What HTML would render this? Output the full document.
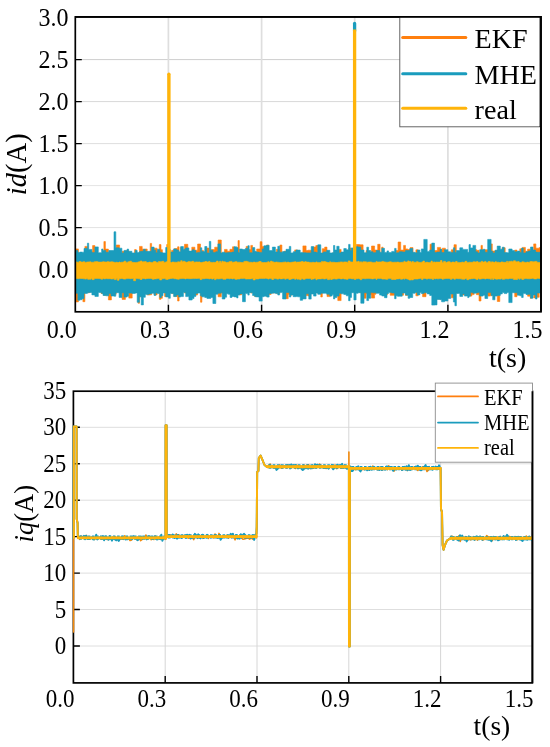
<!DOCTYPE html><html><head><meta charset="utf-8"><title>chart</title><style>html,body{margin:0;padding:0;background:#fff}svg{display:block}</style></head><body><svg width="550" height="747" viewBox="0 0 550 747" font-family='"Liberation Serif", "Times New Roman", serif'><rect width="550" height="747" fill="#fff"/><path d="M75.3 269.6H541.0" stroke="#e2e2e2" stroke-width="1" fill="none"/><path d="M75.3 227.6H541.0" stroke="#e2e2e2" stroke-width="1" fill="none"/><path d="M75.3 185.6H541.0" stroke="#e4e4e4" stroke-width="1" fill="none"/><path d="M75.3 143.6H541.0" stroke="#dedede" stroke-width="1" fill="none"/><path d="M75.3 101.6H541.0" stroke="#d8d8d8" stroke-width="1" fill="none"/><path d="M75.3 59.6H541.0" stroke="#cecece" stroke-width="1" fill="none"/><path d="M168.4 16.9V311.8M261.6 16.9V311.8M354.7 16.9V311.8M447.9 16.9V311.8" stroke="#dedede" stroke-width="1.7" fill="none"/><path d="M75.3 269.6h6.5M75.3 227.6h6.5M75.3 185.6h6.5M75.3 143.6h6.5M75.3 101.6h6.5M75.3 59.6h6.5M168.4 311.8v-7M261.6 311.8v-7M354.7 311.8v-7M447.9 311.8v-7" stroke="#000" stroke-width="1.4" fill="none"/><clipPath id="c1"><rect x="75.3" y="16.9" width="465.7" height="294.90000000000003"/></clipPath><g clip-path="url(#c1)"><path d="M76.1 248.9V248.9H78.4V255.5H81.3V254.5H82.9V254.7H84.9V246.4H87.8V254.9H89.6V251.5H92.6V245.6H94.9V253.4H98.2V255.0H101.0V255.5H103.9V241.6H105.4V249.1H108.4V254.8H111.4V254.3H113.9V255.4H116.2V245.0H119.6V255.5H122.1V251.3H125.4V250.8H128.8V255.1H132.2V254.7H134.6V249.6H136.3V255.4H138.1V253.9H139.5V246.4H142.2V249.2H145.3V249.0H147.2V255.2H150.2V243.4H151.6V255.2H154.1V248.2H157.1V250.9H159.3V244.6H161.0V249.7H162.4V254.6H164.6V253.9H166.7V244.5H169.6V254.2H171.6V250.3H174.3V248.6H177.6V246.8H179.1V253.9H180.6V247.5H182.2V253.5H184.5V244.3H187.8V254.3H189.2V254.9H191.8V247.2H194.9V250.2H197.6V244.0H200.5V254.9H201.9V250.4H203.5V255.3H205.2V248.9H206.8V248.1H209.1V254.1H211.3V249.6H214.7V247.2H218.1V240.0H221.3V253.4H224.5V249.4H227.2V251.2H229.9V249.3H232.5V246.8H234.6V253.7H238.0V240.6H239.3V255.3H241.5V254.0H244.2V253.9H246.1V246.4H247.9V249.6H250.8V245.4H252.5V255.5H254.3V255.3H256.7V249.0H260.1V241.7H262.0V246.4H263.7V247.2H266.5V245.1H268.7V254.7H271.1V253.8H272.7V255.2H274.2V254.3H276.4V249.3H279.9V245.0H281.9V254.8H284.0V251.2H286.0V254.8H288.2V255.7H290.0V255.5H291.3V255.4H294.7V249.9H297.5V253.7H300.9V254.1H302.9V245.9H306.1V250.5H307.9V250.2H310.7V250.5H312.6V247.0H315.8V245.6H317.9V254.8H320.8V255.6H322.3V248.7H324.7V247.1H327.0V253.5H330.3V255.7H332.9V252.7H334.6V255.3H337.8V249.4H341.1V254.3H344.5V255.1H347.4V254.0H348.8V248.0H351.5V250.7H354.8V248.9H356.3V244.5H359.7V244.8H363.1V255.4H366.1V250.6H368.3V254.7H371.5V246.0H374.6V250.0H375.9V250.1H377.7V244.3H380.1V254.5H381.7V247.2H383.1V253.2H386.0V254.7H387.6V255.7H390.2V254.8H393.6V255.5H396.1V250.5H398.1V242.0H400.7V250.1H403.6V245.4H405.5V248.9H407.7V249.6H410.1V247.6H413.0V255.0H415.9V249.8H418.2V255.2H420.0V254.4H422.6V254.8H426.0V254.6H428.4V253.8H430.0V244.2H432.4V255.4H434.0V250.6H437.4V247.4H440.6V249.7H442.3V248.2H445.4V255.4H448.3V255.6H451.3V249.8H454.0V244.7H456.3V254.5H457.7V255.0H460.0V251.5H461.7V254.8H464.6V255.1H466.8V255.1H468.9V253.8H471.9V253.7H474.1V249.5H476.4V250.3H479.0V252.6H481.0V245.4H482.4V251.3H484.6V249.7H487.8V250.1H490.0V243.9H492.3V251.0H495.4V250.5H497.3V250.1H499.8V254.9H502.1V247.8H505.2V253.5H508.1V255.1H510.0V253.8H512.2V254.5H514.7V250.1H517.0V255.7H519.8V248.8H522.3V247.4H525.4V251.2H527.6V249.2H530.3V250.5H531.7V255.0H533.7V243.9H535.9V248.2H539.2V247.6H540.2V290.4H539.2V297.3H535.9V297.9H533.7V287.8H531.7V298.3H530.3V296.2H527.6V287.8H525.4V288.3H522.3V288.2H519.8V294.5H517.0V296.7H514.7V288.1H512.2V288.0H510.0V288.9H508.1V289.4H505.2V290.1H502.1V287.9H499.8V301.5H497.3V289.3H495.4V293.4H492.3V295.8H490.0V296.1H487.8V294.8H484.6V288.5H482.4V290.0H481.0V301.0H479.0V294.7H476.4V287.9H474.1V294.6H471.9V296.1H468.9V292.4H466.8V288.6H464.6V294.9H461.7V288.3H460.0V288.7H457.7V293.1H456.3V288.0H454.0V297.8H451.3V290.3H448.3V288.1H445.4V288.9H442.3V289.2H440.6V299.1H437.4V295.7H434.0V289.9H432.4V292.2H430.0V293.1H428.4V288.2H426.0V296.7H422.6V288.1H420.0V287.7H418.2V295.8H415.9V289.2H413.0V288.5H410.1V293.7H407.7V295.4H405.5V289.3H403.6V295.2H400.7V293.6H398.1V287.7H396.1V295.3H393.6V295.3H390.2V289.2H387.6V294.6H386.0V288.5H383.1V288.7H381.7V292.8H380.1V289.8H377.7V289.6H375.9V294.3H374.6V298.1H371.5V294.7H368.3V293.8H366.1V298.2H363.1V292.7H359.7V291.9H356.3V287.8H354.8V288.1H351.5V292.2H348.8V288.2H347.4V288.3H344.5V288.2H341.1V300.6H337.8V296.0H334.6V288.3H332.9V288.5H330.3V296.6H327.0V288.3H324.7V289.5H322.3V297.0H320.8V293.5H317.9V288.3H315.8V288.7H312.6V293.2H310.7V296.0H307.9V295.6H306.1V287.7H302.9V296.1H300.9V287.8H297.5V288.0H294.7V288.2H291.3V295.4H290.0V294.6H288.2V298.7H286.0V287.8H284.0V289.6H281.9V288.3H279.9V293.4H276.4V287.7H274.2V293.1H272.7V290.0H271.1V294.4H268.7V296.3H266.5V289.4H263.7V287.7H262.0V290.7H260.1V294.0H256.7V296.3H254.3V288.3H252.5V293.0H250.8V288.4H247.9V288.2H246.1V288.6H244.2V289.0H241.5V294.9H239.3V292.4H238.0V290.3H234.6V293.6H232.5V289.1H229.9V287.8H227.2V289.4H224.5V293.1H221.3V296.8H218.1V288.1H214.7V295.1H211.3V292.9H209.1V296.1H206.8V289.1H205.2V288.9H203.5V287.8H201.9V302.2H200.5V287.7H197.6V295.0H194.9V288.3H191.8V288.8H189.2V287.8H187.8V293.1H184.5V288.6H182.2V287.8H180.6V288.8H179.1V301.0H177.6V296.5H174.3V293.6H171.6V292.1H169.6V291.9H166.7V296.6H164.6V289.1H162.4V298.3H161.0V299.3H159.3V287.9H157.1V294.9H154.1V288.8H151.6V294.8H150.2V295.0H147.2V288.3H145.3V292.9H142.2V296.7H139.5V303.3H138.1V292.4H136.3V292.4H134.6V288.9H132.2V298.1H128.8V289.0H125.4V299.4H122.1V288.7H119.6V288.6H116.2V294.2H113.9V288.5H111.4V299.9H108.4V295.0H105.4V295.3H103.9V293.5H101.0V289.1H98.2V289.2H94.9V292.2H92.6V291.9H89.6V292.7H87.8V290.4H84.9V301.7H82.9V293.9H81.3V287.9H78.4V301.9H76.1Z" fill="#FF7F0E" stroke="#FF7F0E" stroke-width="0.6" stroke-linejoin="round"/><path d="M76.1 250.6V250.6H77.9V252.6H79.8V252.1H82.0V252.2H84.0V248.5H87.4V243.2H88.7V249.4H91.9V252.6H94.9V246.9H98.3V252.7H101.6V249.0H103.0V250.4H105.7V252.3H108.8V250.5H111.0V250.5H114.0V231.8H115.8V247.8H119.1V248.2H121.9V252.9H124.0V250.4H127.1V249.1H128.6V251.3H131.9V252.9H135.3V250.5H137.2V252.6H139.4V251.6H141.2V251.3H143.4V249.3H145.3V251.3H148.8V251.3H151.4V247.1H154.1V250.3H155.7V252.7H157.4V249.2H159.8V252.2H161.4V252.8H163.0V252.9H165.7V247.5H168.6V249.4H170.3V252.0H173.6V248.9H176.4V250.0H178.7V251.8H180.7V246.6H183.4V249.2H185.7V247.9H188.9V251.1H192.2V249.8H194.0V250.6H195.9V252.9H197.6V252.4H200.3V247.8H201.8V251.6H204.8V246.5H206.9V253.0H209.3V241.4H210.8V250.2H212.9V252.6H215.8V251.7H217.9V243.9H220.5V253.0H222.2V252.2H225.0V253.0H226.6V252.7H228.4V252.5H230.1V252.5H232.0V252.1H234.1V246.8H236.7V247.6H238.0V252.6H239.6V249.0H242.5V249.5H245.4V248.5H247.9V245.7H249.2V252.7H252.6V247.6H254.8V251.3H256.3V252.1H259.1V252.4H262.2V248.9H263.9V245.8H266.8V245.3H269.1V250.6H272.4V247.1H275.4V252.0H277.8V246.3H279.6V252.2H282.6V251.6H286.0V249.3H289.3V246.4H290.8V252.9H293.2V251.7H296.0V250.0H297.7V250.1H300.2V252.4H302.6V252.8H306.1V252.9H308.8V252.9H311.2V246.6H313.6V252.1H316.1V252.6H317.8V244.8H320.8V253.0H323.4V251.9H326.7V250.3H329.8V253.0H332.1V252.7H333.5V245.5H334.8V250.0H336.8V246.3H339.1V252.9H341.0V252.0H343.8V248.6H346.3V249.8H348.6V244.4H350.1V250.5H351.5V247.9H353.9V252.0H356.1V246.7H358.1V247.1H360.8V250.1H364.0V252.7H366.8V247.2H368.6V250.5H370.7V251.7H372.9V252.7H376.2V250.5H379.6V252.2H381.8V248.3H384.5V252.4H387.0V250.9H388.6V252.6H391.7V251.4H394.6V248.4H396.1V253.0H397.5V252.7H399.3V251.7H402.2V252.0H405.5V250.6H408.1V250.5H409.8V248.5H412.7V252.3H415.1V252.8H417.3V250.0H419.9V252.6H421.3V248.9H423.8V239.4H427.2V251.4H429.7V250.1H431.8V243.1H434.5V252.6H437.0V252.1H440.1V249.1H441.6V252.5H444.5V249.7H447.9V251.8H450.7V252.4H453.4V247.8H454.9V252.5H456.4V250.6H459.8V247.8H462.7V249.4H464.5V249.4H467.7V252.3H469.0V244.6H470.4V247.9H472.9V245.4H475.7V251.7H477.5V252.9H479.7V249.7H483.1V249.3H484.9V252.2H487.7V239.4H491.1V251.2H492.7V252.9H495.0V250.2H497.2V246.1H500.3V249.3H502.3V247.2H504.2V252.6H506.9V252.7H508.8V249.0H512.1V250.6H514.4V251.8H517.4V251.1H519.8V252.4H521.6V248.1H523.2V253.0H526.0V251.7H528.4V251.1H530.5V247.0H533.0V250.0H535.5V252.1H537.0V252.3H540.2V293.0H537.0V299.0H535.5V294.9H533.0V298.2H530.5V294.3H528.4V294.5H526.0V293.6H523.2V297.5H521.6V295.8H519.8V295.2H517.4V292.7H514.4V292.7H512.1V302.6H508.8V292.5H506.9V293.6H504.2V292.5H502.3V293.9H500.3V295.4H497.2V296.1H495.0V299.8H492.7V295.4H491.1V292.6H487.7V298.5H484.9V295.3H483.1V296.1H479.7V292.6H477.5V293.0H475.7V293.2H472.9V292.6H470.4V296.3H469.0V297.6H467.7V296.1H464.5V294.0H462.7V296.4H459.8V293.4H456.4V305.7H454.9V302.0H453.4V294.0H450.7V298.4H447.9V301.0H444.5V301.8H441.6V299.7H440.1V299.4H437.0V304.9H434.5V305.1H431.8V295.5H429.7V293.9H427.2V292.7H423.8V293.5H421.3V292.6H419.9V294.9H417.3V292.5H415.1V293.3H412.7V297.5H409.8V298.3H408.1V295.1H405.5V293.1H402.2V296.2H399.3V296.3H397.5V295.7H396.1V298.7H394.6V293.0H391.7V292.6H388.6V293.5H387.0V297.7H384.5V296.0H381.8V295.1H379.6V293.3H376.2V292.8H372.9V292.6H370.7V298.3H368.6V300.6H366.8V292.7H364.0V303.2H360.8V292.7H358.1V293.3H356.1V299.9H353.9V292.7H351.5V297.4H350.1V300.7H348.6V295.8H346.3V294.4H343.8V293.8H341.0V293.2H339.1V296.1H336.8V297.5H334.8V298.9H333.5V294.8H332.1V296.1H329.8V294.2H326.7V293.2H323.4V293.3H320.8V294.3H317.8V293.1H316.1V296.1H313.6V294.0H311.2V299.1H308.8V293.8H306.1V298.9H302.6V300.3H300.2V296.8H297.7V296.6H296.0V296.7H293.2V295.0H290.8V297.0H289.3V292.5H286.0V299.0H282.6V292.6H279.6V295.0H277.8V293.6H275.4V293.1H272.4V293.4H269.1V297.1H266.8V296.2H263.9V296.7H262.2V301.1H259.1V296.9H256.3V296.7H254.8V295.5H252.6V292.7H249.2V295.1H247.9V293.6H245.4V301.7H242.5V293.9H239.6V295.1H238.0V297.9H236.7V296.9H234.1V296.5H232.0V297.4H230.1V294.3H228.4V293.8H226.6V297.2H225.0V299.0H222.2V292.8H220.5V293.3H217.9V294.2H215.8V303.5H212.9V297.5H210.8V298.4H209.3V298.4H206.9V297.5H204.8V296.8H201.8V295.8H200.3V293.0H197.6V293.4H195.9V296.4H194.0V298.6H192.2V300.0H188.9V296.6H185.7V292.5H183.4V296.6H180.7V297.0H178.7V294.9H176.4V296.6H173.6V293.4H170.3V298.3H168.6V296.9H165.7V292.9H163.0V295.7H161.4V297.5H159.8V293.5H157.4V293.0H155.7V295.5H154.1V293.3H151.4V293.9H148.8V294.6H145.3V297.3H143.4V304.9H141.2V296.8H139.4V302.3H137.2V292.9H135.3V293.4H131.9V293.1H128.6V296.3H127.1V297.1H124.0V292.7H121.9V297.4H119.1V292.7H115.8V296.2H114.0V296.0H111.0V293.5H108.8V295.8H105.7V295.5H103.0V293.6H101.6V292.5H98.3V296.4H94.9V294.9H91.9V292.5H88.7V292.7H87.4V293.4H84.0V298.7H82.0V299.7H79.8V300.3H77.9V293.3H76.1Z" fill="#1A9CBD" stroke="#1A9CBD" stroke-width="0.6" stroke-linejoin="round"/><path d="M354.6 31.04000000000002V23.5" stroke="#1A9CBD" stroke-width="3.3" stroke-linecap="round"/><path d="M76.1 261.9V261.9H77.4V262.5H78.9V261.5H79.8V261.5H80.9V262.1H83.2V261.7H84.9V262.4H86.4V262.0H87.6V261.9H89.5V261.8H91.0V262.3H92.0V262.2H94.2V261.7H96.2V261.6H97.6V262.0H99.7V262.1H101.2V262.0H102.7V261.7H104.2V261.9H105.6V262.1H107.0V261.7H109.1V262.0H110.7V261.8H112.8V262.1H114.4V262.4H116.3V262.1H117.3V262.5H119.0V262.0H120.1V262.5H121.0V262.2H122.8V262.1H124.0V261.2H125.9V262.4H127.8V261.8H129.6V261.2H131.5V262.3H133.6V262.5H135.6V262.4H137.6V262.1H138.6V261.8H140.2V261.0H142.0V261.9H143.0V261.7H144.7V261.6H146.3V262.5H148.6V262.1H150.6V262.4H152.1V262.4H153.0V261.8H154.1V261.5H155.9V262.3H157.0V262.4H158.4V261.6H159.7V261.7H161.7V261.3H163.9V262.4H165.4V262.0H166.3V261.7H168.1V262.3H169.9V262.5H171.9V262.0H173.9V262.2H176.0V262.3H177.6V261.8H179.3V261.9H180.7V260.7H182.2V262.0H183.2V261.3H184.9V261.9H186.0V262.3H187.1V262.0H188.4V261.4H189.6V261.8H191.9V261.3H193.7V262.2H195.5V261.9H197.6V262.1H198.5V261.9H200.0V262.5H201.8V262.3H203.0V262.0H205.0V261.5H206.8V262.0H208.7V261.3H209.8V262.3H211.7V262.4H213.0V262.3H214.6V262.5H215.5V262.1H216.5V261.1H218.2V262.5H219.5V261.3H220.8V262.4H221.9V261.1H222.8V261.7H225.0V261.9H226.0V262.4H227.1V262.3H228.9V261.7H230.2V261.4H232.1V262.5H233.2V262.1H234.9V261.7H237.0V262.2H237.9V262.2H240.0V262.3H241.5V262.5H243.8V261.4H245.2V261.3H247.3V261.8H248.6V262.2H250.9V262.3H252.2V262.4H253.2V262.1H255.2V262.4H256.1V262.2H257.7V262.0H258.9V261.5H261.2V262.5H263.4V262.5H265.2V262.5H266.4V262.3H267.8V261.7H269.0V262.3H270.5V261.1H271.8V261.8H273.6V262.3H275.7V262.0H276.9V262.2H278.8V262.4H280.1V262.5H281.3V262.5H282.6V262.2H284.8V261.9H285.9V262.4H287.3V262.1H288.8V262.5H290.6V262.3H292.4V262.0H294.6V261.7H296.0V262.3H297.0V262.1H298.4V262.1H299.6V261.9H301.2V261.5H303.1V262.0H305.1V261.6H306.1V262.0H307.5V262.1H309.3V262.4H311.1V262.4H312.2V262.3H314.1V262.5H315.9V261.9H317.0V262.4H319.3V262.5H321.4V261.4H322.5V262.0H323.4V261.6H325.6V262.1H327.4V262.5H329.7V261.7H330.6V262.3H332.2V262.2H333.8V262.3H335.1V262.5H337.0V262.5H338.1V262.2H340.2V261.9H342.4V262.2H343.7V261.9H345.9V262.1H347.0V262.4H348.1V260.9H350.1V261.9H351.5V262.0H352.5V261.9H354.3V261.5H355.8V261.8H358.1V261.3H359.2V262.3H360.4V261.8H361.5V262.2H362.9V261.7H364.2V261.8H366.4V262.2H368.1V262.0H370.3V261.9H371.7V262.4H373.7V262.4H376.0V261.6H376.9V261.9H378.5V261.9H380.2V261.9H381.8V261.4H383.8V261.9H385.7V262.2H387.8V262.1H389.4V261.8H391.4V262.3H393.7V262.2H396.0V262.2H396.9V262.1H398.8V262.4H400.4V262.3H402.0V262.2H403.0V262.3H403.9V261.2H404.8V261.9H406.4V261.9H407.7V260.9H409.0V261.6H411.0V262.3H412.1V261.5H413.4V262.2H415.6V262.2H416.5V261.7H418.2V262.3H419.5V262.3H420.6V262.4H421.6V261.9H422.9V261.1H424.5V262.4H426.3V262.1H427.7V262.5H429.4V262.4H431.0V261.1H432.3V262.3H433.6V261.9H434.9V262.3H435.9V262.0H436.9V262.1H438.9V262.1H440.5V260.5H442.0V262.4H443.5V261.4H445.6V262.5H447.0V262.0H447.9V261.7H450.2V262.5H451.9V262.0H454.0V262.3H455.6V261.5H457.2V262.4H459.5V262.5H461.6V262.0H462.8V262.3H465.0V261.3H466.8V262.4H468.7V262.2H470.9V262.3H472.9V261.8H475.2V262.0H476.5V261.6H478.0V262.3H479.0V262.2H481.3V261.3H482.6V262.1H484.6V261.4H486.0V262.4H488.1V261.6H490.3V262.3H491.6V261.8H492.6V262.0H493.9V262.5H495.0V261.7H496.4V262.3H497.4V262.2H499.1V262.5H501.0V261.9H502.2V262.0H503.3V262.3H504.6V262.3H506.6V261.3H507.6V262.4H508.6V261.4H510.8V261.2H512.2V261.8H513.4V260.8H515.5V261.8H517.7V261.6H519.1V262.3H520.1V262.5H521.8V261.8H523.7V262.2H525.0V262.4H526.6V262.1H528.5V262.5H529.8V261.6H530.9V261.5H532.3V261.8H533.7V261.7H534.8V261.4H536.8V262.2H538.4V262.5H539.3V262.4H540.2V278.4H539.3V278.5H538.4V278.3H536.8V278.9H534.8V278.9H533.7V278.3H532.3V278.5H530.9V278.7H529.8V278.8H528.5V278.7H526.6V278.6H525.0V278.7H523.7V279.4H521.8V278.6H520.1V279.2H519.1V278.6H517.7V279.4H515.5V279.4H513.4V278.6H512.2V278.4H510.8V278.4H508.6V279.0H507.6V278.7H506.6V278.8H504.6V279.3H503.3V279.3H502.2V278.6H501.0V279.1H499.1V278.9H497.4V279.3H496.4V279.0H495.0V278.6H493.9V279.4H492.6V278.3H491.6V279.3H490.3V278.7H488.1V278.5H486.0V279.0H484.6V278.5H482.6V278.7H481.3V279.1H479.0V278.3H478.0V279.4H476.5V279.0H475.2V278.4H472.9V278.7H470.9V279.0H468.7V279.7H466.8V278.5H465.0V279.2H462.8V279.2H461.6V278.8H459.5V278.7H457.2V278.4H455.6V279.2H454.0V278.6H451.9V279.3H450.2V278.4H447.9V278.6H447.0V278.4H445.6V278.7H443.5V279.2H442.0V278.5H440.5V278.6H438.9V278.8H436.9V278.5H435.9V278.9H434.9V278.5H433.6V279.4H432.3V278.7H431.0V278.8H429.4V278.5H427.7V279.1H426.3V278.5H424.5V278.4H422.9V279.6H421.6V278.4H420.6V278.5H419.5V278.7H418.2V279.0H416.5V279.1H415.6V279.0H413.4V279.9H412.1V279.8H411.0V280.0H409.0V279.3H407.7V278.9H406.4V278.4H404.8V279.2H403.9V278.4H403.0V279.1H402.0V279.2H400.4V278.7H398.8V278.9H396.9V279.0H396.0V279.4H393.7V279.4H391.4V278.6H389.4V278.6H387.8V279.3H385.7V279.0H383.8V279.1H381.8V278.4H380.2V278.4H378.5V278.4H376.9V279.4H376.0V278.6H373.7V278.9H371.7V278.8H370.3V278.6H368.1V278.6H366.4V278.8H364.2V278.4H362.9V278.8H361.5V279.8H360.4V278.9H359.2V278.6H358.1V278.7H355.8V279.4H354.3V278.7H352.5V278.9H351.5V278.4H350.1V278.4H348.1V279.3H347.0V279.2H345.9V279.0H343.7V278.4H342.4V278.9H340.2V278.4H338.1V278.8H337.0V279.1H335.1V278.8H333.8V278.9H332.2V279.5H330.6V278.7H329.7V279.6H327.4V278.4H325.6V279.0H323.4V278.4H322.5V278.8H321.4V278.9H319.3V278.9H317.0V279.7H315.9V278.6H314.1V279.0H312.2V279.4H311.1V278.6H309.3V278.5H307.5V278.4H306.1V278.7H305.1V279.3H303.1V278.7H301.2V279.7H299.6V279.1H298.4V279.2H297.0V278.4H296.0V279.3H294.6V278.5H292.4V279.0H290.6V279.5H288.8V278.5H287.3V278.7H285.9V279.2H284.8V278.6H282.6V278.9H281.3V278.9H280.1V278.4H278.8V279.1H276.9V278.8H275.7V278.6H273.6V279.5H271.8V278.5H270.5V278.6H269.0V279.0H267.8V278.5H266.4V278.3H265.2V278.4H263.4V278.4H261.2V278.4H258.9V278.9H257.7V279.0H256.1V278.7H255.2V279.9H253.2V278.6H252.2V278.7H250.9V278.9H248.6V278.9H247.3V279.0H245.2V278.3H243.8V278.4H241.5V278.4H240.0V279.0H237.9V279.0H237.0V279.3H234.9V278.5H233.2V278.9H232.1V278.5H230.2V278.8H228.9V278.4H227.1V278.4H226.0V279.2H225.0V279.2H222.8V278.4H221.9V278.6H220.8V278.8H219.5V278.9H218.2V278.8H216.5V279.1H215.5V279.8H214.6V278.5H213.0V279.1H211.7V278.5H209.8V278.9H208.7V278.5H206.8V278.4H205.0V278.7H203.0V278.7H201.8V279.6H200.0V278.3H198.5V278.5H197.6V278.5H195.5V278.6H193.7V278.6H191.9V278.7H189.6V278.7H188.4V278.5H187.1V278.4H186.0V278.9H184.9V278.5H183.2V278.4H182.2V278.6H180.7V278.7H179.3V279.2H177.6V279.0H176.0V278.7H173.9V278.3H171.9V278.5H169.9V278.9H168.1V279.4H166.3V279.2H165.4V278.6H163.9V278.7H161.7V279.9H159.7V278.5H158.4V278.6H157.0V278.8H155.9V278.9H154.1V279.2H153.0V279.2H152.1V278.5H150.6V278.4H148.6V278.5H146.3V278.9H144.7V278.5H143.0V278.4H142.0V279.5H140.2V278.8H138.6V278.7H137.6V278.6H135.6V280.7H133.6V278.5H131.5V278.7H129.6V278.4H127.8V278.6H125.9V279.1H124.0V278.9H122.8V278.4H121.0V278.7H120.1V278.8H119.0V280.3H117.3V278.4H116.3V279.6H114.4V278.8H112.8V279.0H110.7V278.7H109.1V278.7H107.0V278.6H105.6V278.9H104.2V278.4H102.7V279.2H101.2V278.7H99.7V278.4H97.6V278.5H96.2V278.4H94.2V279.6H92.0V278.6H91.0V279.2H89.5V279.3H87.6V278.4H86.4V279.1H84.9V278.8H83.2V278.5H80.9V278.5H79.8V278.6H78.9V278.7H77.4V278.4H76.1Z" fill="#FFB40A" stroke="#FFB40A" stroke-width="0.6" stroke-linejoin="round"/><path d="M168.9 269.6V74.3" stroke="#FFB40A" stroke-width="3.4" stroke-linecap="round"/><path d="M354.6 269.6V29.4" stroke="#FFB40A" stroke-width="3.3" stroke-linecap="butt"/></g><rect x="75.3" y="16.9" width="465.7" height="294.90000000000003" fill="none" stroke="#000" stroke-width="1.7"/><text transform="translate(68.4 277.7) scale(1 1.04)" font-size="24" text-anchor="end">0.0</text><text transform="translate(68.4 235.7) scale(1 1.04)" font-size="24" text-anchor="end">0.5</text><text transform="translate(68.4 193.7) scale(1 1.04)" font-size="24" text-anchor="end">1.0</text><text transform="translate(68.4 151.7) scale(1 1.04)" font-size="24" text-anchor="end">1.5</text><text transform="translate(68.4 109.7) scale(1 1.04)" font-size="24" text-anchor="end">2.0</text><text transform="translate(68.4 67.7) scale(1 1.04)" font-size="24" text-anchor="end">2.5</text><text transform="translate(68.4 25.7) scale(1 1.04)" font-size="24" text-anchor="end">3.0</text><text transform="translate(76.8 338.1) scale(1 1.06)" font-size="24" text-anchor="end">0.0</text><text transform="translate(169.9 338.1) scale(1 1.06)" font-size="24" text-anchor="end">0.3</text><text transform="translate(263.1 338.1) scale(1 1.06)" font-size="24" text-anchor="end">0.6</text><text transform="translate(356.2 338.1) scale(1 1.06)" font-size="24" text-anchor="end">0.9</text><text transform="translate(449.4 338.1) scale(1 1.06)" font-size="24" text-anchor="end">1.2</text><text transform="translate(542.5 338.1) scale(1 1.06)" font-size="24" text-anchor="end">1.5</text><text transform="translate(26 164.2) rotate(-90)" font-size="28.6" text-anchor="middle"><tspan font-style="italic">id</tspan>(A)</text><text x="489" y="366.8" font-size="28">t(s)</text><rect x="399.8" y="16.9" width="141.2" height="109.9" fill="#fff" stroke="#555" stroke-width="0.9"/><path d="M75.3 16.9H541.0V311.8" stroke="#000" stroke-width="1.7" fill="none"/><path d="M540.2 16.9V127" stroke="#000" stroke-width="1.2" fill="none"/><path d="M402.7 37.5H465.8" stroke="#FF7F0E" stroke-width="3.0" stroke-linecap="round"/><text x="474.6" y="47.5" font-size="28.1">EKF</text><path d="M402.7 73.7H465.8" stroke="#1A9CBD" stroke-width="3.0" stroke-linecap="round"/><text x="474.6" y="83.6" font-size="28.1">MHE</text><path d="M402.7 108.3H465.8" stroke="#FFB40A" stroke-width="3.0" stroke-linecap="round"/><text x="474.6" y="118.8" font-size="28.1">real</text><path d="M73.4 646.0H532.4M73.4 609.5H532.4M73.4 573.1H532.4M73.4 536.6H532.4M73.4 500.2H532.4M73.4 463.8H532.4M73.4 427.3H532.4" stroke="#dedede" stroke-width="1" fill="none"/><path d="M165.2 391.2V682.9M257.0 391.2V682.9M348.8 391.2V682.9M440.6 391.2V682.9" stroke="#d6d6d6" stroke-width="1" fill="none"/><rect x="73.4" y="391.2" width="459.0" height="291.7" fill="none" stroke="#000" stroke-width="1.7"/><path d="M73.4 646.0h6.5M73.4 609.5h6.5M73.4 573.1h6.5M73.4 536.6h6.5M73.4 500.2h6.5M73.4 463.8h6.5M73.4 427.3h6.5M165.2 682.9v-7M257.0 682.9v-7M348.8 682.9v-7M440.6 682.9v-7" stroke="#000" stroke-width="1.4" fill="none"/><clipPath id="c2"><rect x="72.4" y="391.2" width="460.0" height="291.7"/></clipPath><g clip-path="url(#c2)"><path d="M73.5 632.0L73.5 426.5L76.6 426.5L76.7 519.0L77.6 523.0L77.8 536.0L78.3 536.2L79.6 539.3L81.0 536.0L82.3 537.1L83.6 537.2L84.9 536.3L86.3 535.5L87.6 537.9L88.9 538.9L90.2 538.9L91.6 537.6L92.9 537.0L94.2 539.5L95.5 538.0L96.9 537.1L98.2 537.2L99.5 538.1L100.8 539.0L102.2 539.2L103.5 538.3L104.8 537.5L106.1 539.1L107.5 539.4L108.8 539.1L110.1 539.0L111.4 538.7L112.8 537.2L114.1 536.5L115.4 536.9L116.7 539.4L118.1 539.1L119.4 538.5L120.7 539.1L122.1 538.8L123.4 539.3L124.7 535.8L126.0 539.2L127.4 537.1L128.7 538.4L130.0 540.5L131.3 540.2L132.7 537.4L134.0 538.2L135.3 538.0L136.6 539.5L138.0 536.8L139.3 537.2L140.6 540.6L141.9 539.7L143.3 537.9L144.6 538.6L145.9 535.0L147.2 538.3L148.6 536.6L149.9 536.6L151.2 539.7L152.5 538.6L153.9 539.5L155.2 536.0L156.5 538.2L157.8 537.7L159.2 537.1L160.5 539.3L161.8 538.9L163.1 538.8L164.5 537.3L165.8 539.4L165.5 537.5L165.6 425.2L166.6 425.2L166.7 536.5L167.0 537.4L168.3 535.2L169.7 535.1L171.0 535.0L172.3 535.4L173.7 537.2L175.0 536.7L176.3 533.9L177.7 535.7L179.0 534.9L180.3 536.6L181.7 537.8L183.0 535.4L184.3 537.3L185.7 535.7L187.0 536.7L188.3 538.1L189.7 536.8L191.0 538.4L192.4 537.2L193.7 539.6L195.0 536.3L196.4 535.9L197.7 538.4L199.0 535.8L200.4 536.2L201.7 535.2L203.0 538.3L204.4 537.2L205.7 536.7L207.0 535.1L208.4 538.4L209.7 536.2L211.0 536.2L212.4 536.2L213.7 537.9L215.0 534.0L216.4 536.3L217.7 537.9L219.0 533.4L220.4 537.8L221.7 538.0L223.0 535.6L224.4 536.8L225.7 536.1L227.0 535.1L228.4 538.1L229.7 535.6L231.0 537.7L232.4 536.5L233.7 537.0L235.1 539.8L236.4 536.8L237.7 537.9L239.1 536.2L240.4 534.9L241.7 538.2L243.1 539.3L244.4 539.0L245.7 538.4L247.1 538.1L248.4 538.1L249.7 539.2L251.1 537.3L252.4 539.1L253.7 536.5L255.1 535.5L256.4 537.9L256.7 527.0L257.2 472.0L258.4 471.0L258.8 458.0L260.6 455.6L262.5 460.0L264.5 465.0L267.0 467.0L267.5 467.3L268.8 465.4L270.2 464.0L271.5 466.8L272.8 465.8L274.2 468.1L275.5 467.0L276.8 466.1L278.2 467.9L279.5 464.9L280.8 467.9L282.2 468.1L283.5 466.0L284.8 466.2L286.2 467.8L287.5 464.8L288.9 466.1L290.2 465.9L291.5 466.7L292.9 466.2L294.2 466.8L295.5 468.4L296.9 465.1L298.2 467.6L299.5 467.7L300.9 466.1L302.2 467.7L303.5 464.9L304.9 466.5L306.2 465.4L307.5 464.9L308.9 464.9L310.2 468.5L311.5 466.2L312.9 468.4L314.2 465.8L315.5 465.3L316.9 465.1L318.2 465.9L319.5 464.1L320.9 465.4L322.2 466.1L323.5 466.5L324.9 465.5L326.2 468.4L327.5 467.0L328.9 468.1L330.2 466.9L331.6 467.2L332.9 466.5L334.2 465.2L335.6 465.3L336.9 468.6L338.2 467.4L339.6 466.2L340.9 468.3L342.2 468.1L343.6 465.9L344.9 466.6L346.2 466.8L347.6 466.8L348.9 465.8L348.9 466.5L348.9 452.0L349.0 646.5L349.8 646.5L349.9 468.5L350.4 470.3L351.7 467.1L353.0 467.9L354.4 469.3L355.7 469.7L357.0 467.8L358.3 467.2L359.6 468.6L361.0 470.2L362.3 469.1L363.6 469.4L364.9 469.4L366.2 468.5L367.6 467.5L368.9 470.0L370.2 468.6L371.5 469.3L372.8 466.1L374.2 469.1L375.5 468.9L376.8 469.0L378.1 469.8L379.5 467.3L380.8 467.4L382.1 470.2L383.4 467.6L384.7 469.5L386.1 467.9L387.4 469.6L388.7 465.8L390.0 469.5L391.3 466.9L392.7 469.5L394.0 471.1L395.3 469.0L396.6 468.3L397.9 468.0L399.3 468.9L400.6 467.8L401.9 470.2L403.2 468.1L404.5 469.2L405.9 466.9L407.2 470.5L408.5 469.3L409.8 467.8L411.1 469.3L412.5 467.4L413.8 467.2L415.1 466.7L416.4 469.2L417.8 470.5L419.1 468.7L420.4 470.2L421.7 467.7L423.0 466.6L424.4 468.9L425.7 468.0L427.0 471.5L428.3 470.1L429.6 468.4L431.0 468.6L432.3 468.4L433.6 467.8L434.9 468.9L436.2 467.9L437.6 468.6L438.9 469.2L440.2 468.6L440.6 468.0L441.0 509.0L442.0 512.0L442.6 545.0L443.6 549.8L445.0 545.0L447.0 540.5L450.5 538.4L451.0 536.6L452.3 536.4L453.6 537.5L455.0 538.4L456.3 536.9L457.6 538.9L458.9 535.8L460.2 541.4L461.6 537.4L462.9 537.4L464.2 539.2L465.5 536.7L466.9 538.0L468.2 539.9L469.5 537.0L470.8 539.8L472.1 538.9L473.5 537.4L474.8 540.0L476.1 537.0L477.4 540.1L478.7 538.1L480.1 539.0L481.4 538.1L482.7 540.1L484.0 539.6L485.4 538.4L486.7 535.7L488.0 536.6L489.3 536.7L490.6 540.1L492.0 540.6L493.3 539.3L494.6 536.8L495.9 537.6L497.2 537.0L498.6 538.3L499.9 537.6L501.2 539.5L502.5 538.4L503.9 538.6L505.2 536.5L506.5 537.7L507.8 539.0L509.1 536.4L510.5 536.9L511.8 538.5L513.1 538.1L514.4 538.9L515.7 536.7L517.1 539.8L518.4 536.7L519.7 537.0L521.0 539.7L522.4 539.2L523.7 539.1L525.0 537.3L526.3 536.1L527.6 538.7L529.0 536.5L530.3 537.7L531.6 536.9" stroke="#F28A0C" stroke-width="1.6" fill="none" stroke-linejoin="round" stroke-linecap="round"/><path d="M73.4 538.0L73.4 426.5L76.6 426.5L76.7 519.0L77.6 523.0L77.8 536.0L78.3 536.7L79.4 537.6L80.5 536.6L81.7 537.0L82.8 536.8L83.9 535.9L85.0 539.2L86.2 535.8L87.3 539.0L88.4 538.7L89.5 539.0L90.6 537.4L91.8 537.6L92.9 539.3L94.0 539.6L95.1 538.6L96.2 534.7L97.4 539.4L98.5 538.0L99.6 537.8L100.7 536.6L101.9 537.5L103.0 536.1L104.1 540.3L105.2 536.4L106.3 536.7L107.5 538.3L108.6 539.8L109.7 536.0L110.8 538.1L112.0 540.7L113.1 537.2L114.2 538.8L115.3 539.6L116.4 540.3L117.6 537.3L118.7 540.9L119.8 539.1L120.9 538.2L122.1 536.5L123.2 538.2L124.3 537.9L125.4 539.4L126.5 539.3L127.7 539.2L128.8 538.5L129.9 537.9L131.0 537.7L132.1 539.1L133.3 536.1L134.4 537.7L135.5 537.3L136.6 539.4L137.8 540.2L138.9 538.7L140.0 537.2L141.1 536.6L142.2 538.8L143.4 537.0L144.5 537.6L145.6 538.3L146.7 539.4L147.9 538.2L149.0 536.1L150.1 536.7L151.2 537.5L152.3 538.5L153.5 538.7L154.6 536.4L155.7 537.7L156.8 539.4L157.9 539.2L159.1 537.7L160.2 539.2L161.3 534.7L162.4 540.7L163.6 537.7L164.7 538.1L165.8 536.1L165.5 537.5L165.6 425.2L166.6 425.2L166.7 536.5L167.0 536.3L168.1 536.1L169.2 535.1L170.4 536.6L171.5 536.6L172.6 534.5L173.7 536.8L174.8 538.0L175.9 535.6L177.1 538.6L178.2 535.3L179.3 537.6L180.4 536.0L181.5 537.9L182.6 536.2L183.8 536.2L184.9 535.3L186.0 537.9L187.1 534.7L188.2 536.8L189.3 534.8L190.5 538.5L191.6 537.0L192.7 537.7L193.8 536.2L194.9 533.9L196.1 534.9L197.2 537.8L198.3 534.4L199.4 537.3L200.5 538.4L201.6 535.1L202.8 534.7L203.9 537.9L205.0 536.5L206.1 537.5L207.2 534.9L208.3 536.0L209.5 537.1L210.6 537.4L211.7 536.1L212.8 536.8L213.9 535.6L215.1 535.4L216.2 535.7L217.3 537.7L218.4 537.7L219.5 535.1L220.6 539.7L221.8 537.9L222.9 536.7L224.0 536.9L225.1 536.4L226.2 537.5L227.3 535.7L228.5 536.4L229.6 537.0L230.7 533.9L231.8 534.9L232.9 533.7L234.0 537.2L235.2 536.1L236.3 535.0L237.4 538.5L238.5 538.1L239.6 538.6L240.8 534.2L241.9 536.6L243.0 534.7L244.1 533.8L245.2 535.7L246.3 537.6L247.5 537.3L248.6 536.5L249.7 536.0L250.8 537.8L251.9 535.4L253.0 535.3L254.2 539.9L255.3 534.9L256.4 533.5L256.7 527.0L257.2 472.0L258.4 471.0L258.8 458.0L260.6 455.6L262.5 460.0L264.5 465.0L267.0 467.0L267.5 466.9L268.6 466.1L269.8 464.9L270.9 467.3L272.0 467.3L273.2 466.9L274.3 466.9L275.4 467.0L276.5 469.9L277.7 468.7L278.8 467.3L279.9 466.8L281.1 465.4L282.2 466.5L283.3 466.1L284.5 466.2L285.6 465.5L286.7 465.5L287.9 467.1L289.0 465.0L290.1 468.4L291.2 464.4L292.4 465.7L293.5 465.1L294.6 466.7L295.8 465.1L296.9 466.9L298.0 468.4L299.2 466.7L300.3 466.6L301.4 468.6L302.5 470.0L303.7 469.4L304.8 467.1L305.9 468.2L307.1 467.9L308.2 468.6L309.3 467.1L310.5 468.3L311.6 468.3L312.7 465.5L313.9 467.9L315.0 464.3L316.1 467.7L317.2 464.7L318.4 465.5L319.5 465.4L320.6 466.5L321.8 466.4L322.9 467.7L324.0 468.0L325.2 467.9L326.3 468.1L327.4 466.9L328.6 468.6L329.7 466.6L330.8 466.5L331.9 464.9L333.1 469.3L334.2 468.0L335.3 467.0L336.5 467.9L337.6 464.8L338.7 467.0L339.9 465.0L341.0 465.7L342.1 463.9L343.2 468.0L344.4 465.5L345.5 466.6L346.6 468.6L347.8 468.0L348.9 469.9L348.9 466.5L348.9 466.0L349.0 646.5L349.8 646.5L349.9 468.5L350.4 466.5L351.5 471.0L352.6 470.9L353.8 469.2L354.9 467.6L356.0 468.8L357.1 467.0L358.3 466.3L359.4 470.1L360.5 471.4L361.6 468.7L362.7 468.7L363.9 468.8L365.0 469.5L366.1 467.9L367.2 470.3L368.4 468.0L369.5 470.0L370.6 466.7L371.7 469.7L372.8 469.2L374.0 466.9L375.1 467.7L376.2 468.1L377.3 469.6L378.5 469.2L379.6 469.9L380.7 467.2L381.8 470.0L383.0 468.5L384.1 469.6L385.2 469.6L386.3 466.5L387.4 466.5L388.6 467.2L389.7 467.9L390.8 468.1L391.9 467.0L393.1 470.8L394.2 468.0L395.3 467.2L396.4 469.5L397.5 468.5L398.7 466.9L399.8 468.6L400.9 468.2L402.0 469.9L403.2 468.9L404.3 466.9L405.4 469.7L406.5 466.3L407.6 470.3L408.8 465.2L409.9 470.0L411.0 469.4L412.1 467.3L413.3 468.4L414.4 468.1L415.5 466.6L416.6 467.0L417.8 465.8L418.9 467.9L420.0 469.6L421.1 470.3L422.2 469.5L423.4 467.1L424.5 466.7L425.6 465.1L426.7 469.1L427.9 467.4L429.0 466.9L430.1 469.4L431.2 467.7L432.3 469.6L433.5 466.9L434.6 468.3L435.7 466.6L436.8 468.4L438.0 468.9L439.1 465.4L440.2 468.3L440.6 468.0L441.0 509.0L442.0 512.0L442.6 545.0L443.6 549.8L445.0 545.0L447.0 540.5L450.5 538.4L451.0 536.4L452.1 536.9L453.2 539.8L454.4 539.2L455.5 538.1L456.6 538.2L457.7 539.9L458.8 540.5L460.0 535.3L461.1 538.2L462.2 535.6L463.3 538.0L464.4 539.7L465.6 538.0L466.7 541.4L467.8 538.5L468.9 536.3L470.0 537.7L471.1 539.1L472.3 539.2L473.4 536.8L474.5 539.7L475.6 536.8L476.7 536.3L477.9 536.9L479.0 539.0L480.1 536.4L481.2 537.5L482.3 539.6L483.5 537.4L484.6 538.6L485.7 538.7L486.8 537.9L487.9 539.3L489.1 539.9L490.2 537.8L491.3 541.3L492.4 537.9L493.5 536.8L494.7 538.0L495.8 539.2L496.9 538.4L498.0 540.2L499.1 539.8L500.3 536.6L501.4 539.0L502.5 539.2L503.6 536.0L504.7 538.2L505.9 536.7L507.0 534.9L508.1 536.3L509.2 539.7L510.3 537.9L511.4 537.5L512.6 538.0L513.7 537.8L514.8 536.9L515.9 539.9L517.0 538.0L518.2 536.8L519.3 539.3L520.4 537.5L521.5 540.2L522.6 541.0L523.8 537.6L524.9 539.3L526.0 537.5L527.1 539.8L528.2 537.4L529.4 536.5L530.5 538.3L531.6 540.1" stroke="#1A9CBD" stroke-width="2.0" fill="none" stroke-linejoin="round" stroke-linecap="round"/><path d="M79.3 537.6999999999999H164.8M168.0 536.4H255.39999999999998M268.5 466.5H347.9M351.4 468.2H439.2M452.0 538.0999999999999H530.6" stroke="#1A9CBD" stroke-width="4.3" fill="none" stroke-dasharray="2.6 1.6"/><path d="M73.8 538.0L73.8 426.5L76.6 426.5L76.7 519.0L77.6 523.0L77.8 536.0L78.3 537.9L80.4 538.0L82.5 537.8L84.5 537.7L86.6 538.0L88.7 537.7L90.8 538.1L92.9 537.9L95.0 538.2L97.0 537.8L99.1 538.1L101.2 537.6L103.3 538.3L105.4 537.9L107.5 538.1L109.5 538.1L111.6 537.7L113.7 537.6L115.8 538.1L117.9 537.7L120.0 537.9L122.0 538.0L124.1 537.7L126.2 537.9L128.3 537.9L130.4 538.1L132.5 538.1L134.6 537.7L136.6 537.9L138.7 537.7L140.8 538.3L142.9 538.1L145.0 538.0L147.1 537.8L149.1 538.1L151.2 537.7L153.3 538.1L155.4 537.7L157.5 537.5L159.6 537.8L161.6 538.0L163.7 537.6L165.8 537.9L165.5 537.5L165.6 425.2L166.6 425.2L166.7 536.5L167.0 536.6L169.1 536.7L171.2 536.7L173.2 536.4L175.3 536.5L177.4 536.4L179.5 536.8L181.6 536.7L183.6 536.5L185.7 536.2L187.8 536.6L189.9 536.4L191.9 536.7L194.0 536.8L196.1 536.7L198.2 536.8L200.3 536.6L202.3 536.7L204.4 536.7L206.5 536.5L208.6 536.8L210.7 536.5L212.7 536.6L214.8 536.5L216.9 536.3L219.0 536.4L221.1 536.7L223.1 536.4L225.2 536.8L227.3 536.6L229.4 536.4L231.5 536.4L233.5 536.7L235.6 536.7L237.7 536.2L239.8 536.4L241.8 536.6L243.9 536.6L246.0 536.3L248.1 536.4L250.2 536.5L252.2 536.9L254.3 536.4L256.4 536.5L256.7 527.0L257.2 472.0L258.4 471.0L258.8 458.0L260.6 455.6L262.5 460.0L264.5 465.0L267.0 467.0L267.5 466.6L269.6 466.8L271.7 466.5L273.8 466.8L275.8 466.9L277.9 466.4L280.0 466.6L282.1 466.8L284.2 466.5L286.3 466.9L288.4 466.9L290.5 466.9L292.5 466.9L294.6 466.5L296.7 466.5L298.8 466.9L300.9 466.6L303.0 466.9L305.1 466.8L307.2 466.5L309.2 466.7L311.3 466.8L313.4 466.6L315.5 466.7L317.6 466.6L319.7 466.8L321.8 466.6L323.9 466.5L325.9 466.9L328.0 466.6L330.1 466.6L332.2 466.5L334.3 466.6L336.4 466.8L338.5 466.7L340.6 466.6L342.6 466.6L344.7 466.8L346.8 466.8L348.9 466.5L348.9 466.5L348.9 466.0L349.0 646.5L349.8 646.5L349.9 468.5L350.4 468.4L352.5 468.2L354.6 468.3L356.7 468.1L358.8 468.3L360.8 468.4L362.9 468.3L365.0 468.4L367.1 468.4L369.2 468.6L371.3 468.2L373.4 468.3L375.5 468.6L377.5 468.3L379.6 468.2L381.7 468.5L383.8 468.2L385.9 468.6L388.0 468.5L390.1 468.6L392.2 468.4L394.3 468.5L396.3 468.2L398.4 468.6L400.5 468.1L402.6 468.2L404.7 468.5L406.8 468.0L408.9 468.3L411.0 468.5L413.1 468.2L415.1 468.5L417.2 468.3L419.3 468.4L421.4 468.5L423.5 468.5L425.6 468.4L427.7 468.7L429.8 468.5L431.8 468.2L433.9 468.5L436.0 468.3L438.1 468.0L440.2 468.6L440.6 468.0L441.0 509.0L442.0 512.0L442.6 545.0L443.6 549.8L445.0 545.0L447.0 540.5L450.5 538.4L451.0 538.6L453.1 538.1L455.1 538.5L457.2 538.1L459.3 538.5L461.3 538.1L463.4 538.2L465.5 538.2L467.5 538.5L469.6 538.1L471.7 538.3L473.7 538.1L475.8 538.3L477.9 538.2L479.9 538.4L482.0 538.1L484.1 538.4L486.1 538.3L488.2 537.9L490.3 538.3L492.3 538.2L494.4 538.3L496.5 538.3L498.5 538.2L500.6 538.4L502.7 538.2L504.7 538.5L506.8 538.5L508.9 538.5L510.9 538.1L513.0 538.5L515.1 538.2L517.1 538.4L519.2 538.5L521.3 538.4L523.3 538.1L525.4 538.6L527.5 538.1L529.5 537.9L531.6 538.6" stroke="#FFB40A" stroke-width="2.0" fill="none" stroke-linejoin="round" stroke-linecap="round"/><path d="M78.3 537.9H165.8M167.0 536.6H256.4M267.5 466.7H348.9M350.4 468.4H440.2M451.0 538.3H531.6" stroke="#FFB40A" stroke-width="2.9" fill="none" stroke-linecap="round"/></g><text transform="translate(66.2 654.0) scale(1 1.06)" font-size="23" text-anchor="end">0</text><text transform="translate(66.2 617.5) scale(1 1.06)" font-size="23" text-anchor="end">5</text><text transform="translate(66.2 581.1) scale(1 1.06)" font-size="23" text-anchor="end">10</text><text transform="translate(66.2 544.6) scale(1 1.06)" font-size="23" text-anchor="end">15</text><text transform="translate(66.2 508.2) scale(1 1.06)" font-size="23" text-anchor="end">20</text><text transform="translate(66.2 471.8) scale(1 1.06)" font-size="23" text-anchor="end">25</text><text transform="translate(66.2 435.3) scale(1 1.06)" font-size="23" text-anchor="end">30</text><text transform="translate(66.2 398.9) scale(1 1.06)" font-size="23" text-anchor="end">35</text><text transform="translate(74.4 707.2) scale(1 1.1)" font-size="23" text-anchor="end">0.0</text><text transform="translate(166.2 707.2) scale(1 1.1)" font-size="23" text-anchor="end">0.3</text><text transform="translate(258.0 707.2) scale(1 1.1)" font-size="23" text-anchor="end">0.6</text><text transform="translate(349.8 707.2) scale(1 1.1)" font-size="23" text-anchor="end">0.9</text><text transform="translate(441.6 707.2) scale(1 1.1)" font-size="23" text-anchor="end">1.2</text><text transform="translate(533.4 707.2) scale(1 1.1)" font-size="23" text-anchor="end">1.5</text><text transform="translate(32.6 513.7) rotate(-90)" font-size="26.5" text-anchor="middle"><tspan font-style="italic">iq</tspan>(A)</text><text x="473.6" y="735.2" font-size="27.5">t(s)</text><rect x="435.3" y="383.1" width="97.19999999999999" height="79.09999999999997" fill="#fff" stroke="#8c8c8c" stroke-width="0.9"/><path d="M532.4 391.2V682.9" stroke="#000" stroke-width="1.7" fill="none"/><path d="M438 396.4H478" stroke="#FF7F0E" stroke-width="1.8" stroke-linecap="round"/><text transform="translate(484 404.5) scale(1 1.1)" font-size="20.5">EKF</text><path d="M438 422.6H478" stroke="#1A9CBD" stroke-width="1.8" stroke-linecap="round"/><text transform="translate(484 430) scale(1 1.1)" font-size="20.5">MHE</text><path d="M438 447.9H478" stroke="#FFB40A" stroke-width="1.8" stroke-linecap="round"/><text transform="translate(484 454.7) scale(1 1.1)" font-size="20.5">real</text></svg></body></html>
